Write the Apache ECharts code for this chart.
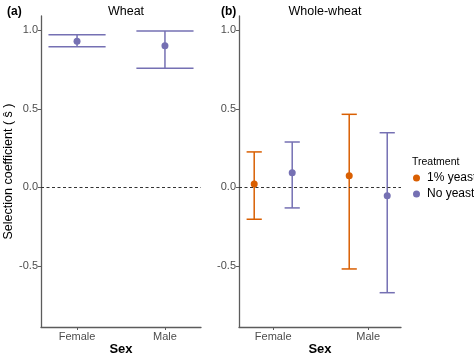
<!DOCTYPE html>
<html><head><meta charset="utf-8">
<script src="https://cdn.jsdelivr.net/npm/echarts@6/dist/echarts.min.js"></script>
<style>html,body{margin:0;padding:0;background:#fff}#c{width:474px;height:355px}</style>
</head><body><div id="c"></div>
<script>
// ---- data ----
const categories = ['Female', 'Male'];
const panelTitles = ['Wheat', 'Whole-wheat'];
const panelTags = ['(a)', '(b)'];
const yTicks = [-0.5, 0, 0.5, 1.0];
const treatments = ['1% yeast', 'No yeast'];
// Panel (a) Wheat
const wheatMean = [0.929, 0.901];
const wheatLow  = [0.895, 0.758];
const wheatHigh = [0.971, 0.995];
// Panel (b) Whole-wheat
const yeastMean = [0.022, 0.075];
const yeastLow  = [-0.202, -0.518];
const yeastHigh = [0.226, 0.465];
const noYeastMean = [0.094, -0.052];
const noYeastLow  = [-0.130, -0.669];
const noYeastHigh = [0.289, 0.348];

// ---- style ----
const ORANGE = '#D95F02', PURPLE = '#7570B3';
const AXIS = '#5c5c5c', LABEL = '#4d4d4d';
const FONT = 'Liberation Sans, Arial, sans-serif';
const dodge = 0.2;

function errSeries(name, xi, yi, pts, color, capW) {
  return {
    type: 'custom', name: name, xAxisIndex: xi, yAxisIndex: yi, z: 3,
    data: pts,
    renderItem: function (params, api) {
      const x = api.value(0), lo = api.value(1), hi = api.value(2);
      const a = api.coord([x, lo]), b = api.coord([x, hi]);
      const half = api.size([capW, 0])[0] / 2;
      const st = { stroke: color, lineWidth: 1.5, fill: null };
      return { type: 'group', children: [
        { type: 'line', shape: { x1: a[0], y1: a[1], x2: b[0], y2: b[1] }, style: st },
        { type: 'line', shape: { x1: a[0] - half, y1: a[1], x2: a[0] + half, y2: a[1] }, style: st },
        { type: 'line', shape: { x1: b[0] - half, y1: b[1], x2: b[0] + half, y2: b[1] }, style: st }
      ]};
    },
    encode: { x: 0, y: [1, 2] },
    silent: true
  };
}

const wheatErr = categories.map((c, i) => [i + 1, wheatLow[i], wheatHigh[i]]);
const wheatPts = categories.map((c, i) => [i + 1, wheatMean[i]]);
const yErr = categories.map((c, i) => [i + 1 - dodge, yeastLow[i], yeastHigh[i]]);
const yPts = categories.map((c, i) => [i + 1 - dodge, yeastMean[i]]);
const nErr = categories.map((c, i) => [i + 1 + dodge, noYeastLow[i], noYeastHigh[i]]);
const nPts = categories.map((c, i) => [i + 1 + dodge, noYeastMean[i]]);

function xAxis(gi, min, max) {
  return {
    type: 'value', gridIndex: gi, min: min, max: max,
    name: 'Sex', nameLocation: 'middle', nameGap: 16, nameMoveOverlap: false,
    nameTextStyle: { fontFamily: FONT, fontSize: 13, fontWeight: 'bold', color: '#000' },
    splitLine: { show: false },
    axisLine: { show: true, onZero: false, lineStyle: { color: AXIS, width: 1.3 } },
    axisTick: { show: true, length: 3, lineStyle: { color: AXIS }, customValues: [1, 2] },
    axisLabel: { customValues: [1, 2], margin: 4, color: LABEL, fontFamily: FONT, fontSize: 11,
      formatter: v => categories[Math.round(v) - 1] || '' }
  };
}
function yAxis(gi, showName) {
  return {
    type: 'value', gridIndex: gi, min: -0.887, max: 1.09,
    name: showName ? 'Selection coefficient ( ŝ )' : '', nameLocation: 'middle', nameGap: 26, nameMoveOverlap: false,
    nameTextStyle: { fontFamily: FONT, fontSize: 12.5, color: '#000' },
    splitLine: { show: false },
    axisLine: { show: true, onZero: false, lineStyle: { color: AXIS, width: 1.3 } },
    axisTick: { show: true, length: 3, lineStyle: { color: AXIS }, customValues: yTicks },
    axisLabel: { customValues: yTicks, margin: 3, color: LABEL, fontFamily: FONT, fontSize: 11,
      formatter: v => v.toFixed(1) }
  };
}

const zeroLine = {
  silent: true, symbol: 'none', label: { show: false },
  lineStyle: { type: [3, 2.5], color: '#333', width: 1 },
  data: [{ yAxis: 0 }]
};

const chart = echarts.init(document.getElementById('c'), null, { renderer: 'canvas' });
chart.setOption({
  animation: false,
  backgroundColor: '#fff',
  textStyle: { fontFamily: FONT },
  grid: [
    { left: 41, top: 16, width: 160, height: 311, containLabel: false, outerBoundsMode: 'none' },
    { left: 239, top: 16, width: 162, height: 311, containLabel: false, outerBoundsMode: 'none' }
  ],
  xAxis: [xAxis(0, 0.59, 2.41), xAxis(1, 0.64, 2.345)],
  yAxis: [yAxis(0, true), yAxis(1, false)],
  title: [
    { text: panelTags[0], left: 2, top: 1, textStyle: { fontFamily: FONT, fontSize: 12, fontWeight: 'bold', color: '#000' } },
    { text: panelTitles[0], left: 121, top: 0, textAlign: 'center', textStyle: { fontFamily: FONT, fontSize: 12.5, fontWeight: 'normal', color: '#000' } },
    { text: panelTags[1], left: 216, top: 1, textStyle: { fontFamily: FONT, fontSize: 12, fontWeight: 'bold', color: '#000' } },
    { text: panelTitles[1], left: 320, top: 0, textAlign: 'center', textStyle: { fontFamily: FONT, fontSize: 12.5, fontWeight: 'normal', color: '#000' } },
    { text: 'Treatment', left: 407, top: 152, textStyle: { fontFamily: FONT, fontSize: 10.5, fontWeight: 'normal', color: '#000' } }
  ],
  legend: {
    orient: 'vertical', left: 408, top: 167, itemGap: 4, itemWidth: 7, itemHeight: 7,
    icon: 'circle', data: treatments,
    textStyle: { fontFamily: FONT, fontSize: 12, color: '#000', padding: [0, 0, 0, 2] }
  },
  series: [
    Object.assign(errSeries('wheatErr', 0, 0, wheatErr, PURPLE, 0.65), { markLine: zeroLine }),
    { type: 'scatter', name: 'wheat', xAxisIndex: 0, yAxisIndex: 0, data: wheatPts, symbolSize: 7, itemStyle: { color: PURPLE, opacity: 1 }, z: 4 },
    Object.assign(errSeries('yErr', 1, 1, yErr, ORANGE, 0.16), { markLine: zeroLine }),
    errSeries('nErr', 1, 1, nErr, PURPLE, 0.16),
    { type: 'scatter', name: treatments[0], xAxisIndex: 1, yAxisIndex: 1, data: yPts, symbolSize: 7, itemStyle: { color: ORANGE, opacity: 1 }, z: 4 },
    { type: 'scatter', name: treatments[1], xAxisIndex: 1, yAxisIndex: 1, data: nPts, symbolSize: 7, itemStyle: { color: PURPLE, opacity: 1 }, z: 4 }
  ]
});
</script></body></html>
